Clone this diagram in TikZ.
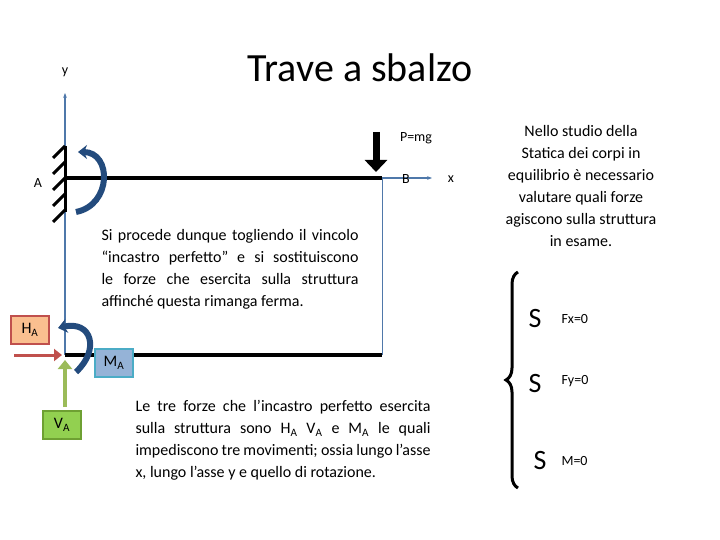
\documentclass[tikz,border=0pt]{standalone}
\usepackage{fontspec}
\setmainfont{Carlito}
\usetikzlibrary{arrows.meta,decorations.pathreplacing}
\definecolor{axisblue}{RGB}{79,120,170}
\definecolor{momblue}{RGB}{35,75,125}
\definecolor{hred}{RGB}{192,80,77}
\definecolor{hfill}{RGB}{250,191,143}
\definecolor{vgreen}{RGB}{110,160,50}
\definecolor{vfill}{RGB}{146,208,80}
\definecolor{varrow}{RGB}{155,187,89}
\definecolor{mdraw}{RGB}{75,172,198}
\definecolor{mfill}{RGB}{149,179,215}
\tikzset{
  beam/.style={line width=4pt,black},
  axis/.style={axisblue,line width=1.2pt,-{Stealth[length=5pt]}},
  moment/.style={momblue,line width=6pt,-{Stealth[length=9pt,width=14pt]}},
  lbl/.style={font=\fontsize{14}{16}\selectfont},
  txt/.style={font=\fontsize{16}{22}\selectfont,align=justify,text width=#1},
  boxlbl/.style={draw,line width=2pt,minimum width=38pt,minimum height=28pt,font=\fontsize{16}{18}\selectfont}
}
\begin{document}
\begin{tikzpicture}[x=1pt,y=-1pt]
\useasboundingbox (0,0) rectangle (720,540);
\node (title) at (360,68) {\fontsize{40}{44}\selectfont Trave a sbalzo};
\node[lbl] (ylab) at (65,72) {y};
% axes
\coordinate (O) at (65,178);
\coordinate (ytip) at (65,93);
\coordinate (ybot) at (65,355);
\draw[axisblue,line width=1.2pt] (ybot) -- (O);
\draw[axis] (O) -- (ytip);
\coordinate (B) at (382,178);
\coordinate (xtip) at (432,178);
\draw[axis] (B) -- (xtip);
\node[lbl] (xlab) at (451,179) {x};
\draw[axisblue,line width=1pt] (B) -- (382,355);
% beams
\draw[beam] (O) -- (B);
\draw[beam] (ybot) -- (382,355);
% hatch
\draw[line width=3pt] (65,146) -- (65,212);
\foreach \yy in {146,162,178,194,210} \draw[line width=3pt] (65,\yy) -- (53,\yy+12);
\node[lbl] (A) at (38,183) {A};
% load
\draw[line width=7pt,-{Triangle[length=12pt,width=22pt]}] (376,132) -- (376,172);
\node[lbl] (P) at (416,138) {P=mg};
\node[lbl] (Bl) at (406,179) {B};
% top moment
\draw[moment] (76,212) .. controls (112,205) and (112,152) .. (78,152);
% bottom moment
\draw[moment] (76,372) .. controls (100,350) and (92,320) .. (58,328);
% reactions
\node[boxlbl,draw=hred,fill=hfill] (HA) at (30,330) {H\textsubscript{A}};
\draw[hred,line width=3pt,-{Triangle[length=8pt,width=12pt]}] (14,355) -- (62,355);
\node[boxlbl,draw=vgreen,fill=vfill] (VA) at (62,425) {V\textsubscript{A}};
\draw[varrow,line width=4pt,-{Triangle[length=9pt,width=14pt]}] (65,407) -- (65,360);
\node[boxlbl,draw=mdraw,fill=mfill] (MA) at (114,363) {M\textsubscript{A}};
% texts
\node[txt=257pt,anchor=north west,execute at begin node={\hyphenpenalty=10000\exhyphenpenalty=10000}] (t1) at (98,226) {Si procede dunque togliendo il vincolo “incastro perfetto” e si sostituiscono le forze che esercita sulla struttura affinché questa rimanga ferma.};
\node[txt=295pt,anchor=north west,execute at begin node={\hyphenpenalty=10000\exhyphenpenalty=10000}] (t2) at (132,397) {Le tre forze che l’incastro perfetto esercita sulla struttura sono H\textsubscript{A} V\textsubscript{A} e M\textsubscript{A} le quali impediscono tre movimenti; ossia lungo l’asse x, lungo l’asse y e quello di rotazione.};
\node[font=\fontsize{16}{22}\selectfont,align=center] (t3) at (581,186) {Nello studio della\\Statica dei corpi in\\equilibrio è necessario\\valutare quali forze\\agiscono sulla struttura\\in esame.};
% equations
\draw[line width=3pt,decorate,decoration={brace,amplitude=12pt,aspect=0.5}] (518,488) -- (518,272);
\node[font=\fontsize{28}{30}\selectfont] (S1) at (535,319) {S};
\node[font=\fontsize{28}{30}\selectfont] (S2) at (535,384) {S};
\node[font=\fontsize{28}{30}\selectfont] (S3) at (540,461) {S};
\node[lbl,anchor=west] (e1) at (558,319) {Fx=0};
\node[lbl,anchor=west] (e2) at (558,381) {Fy=0};
\node[lbl,anchor=west] (e3) at (558,461) {M=0};
\end{tikzpicture}
\end{document}
